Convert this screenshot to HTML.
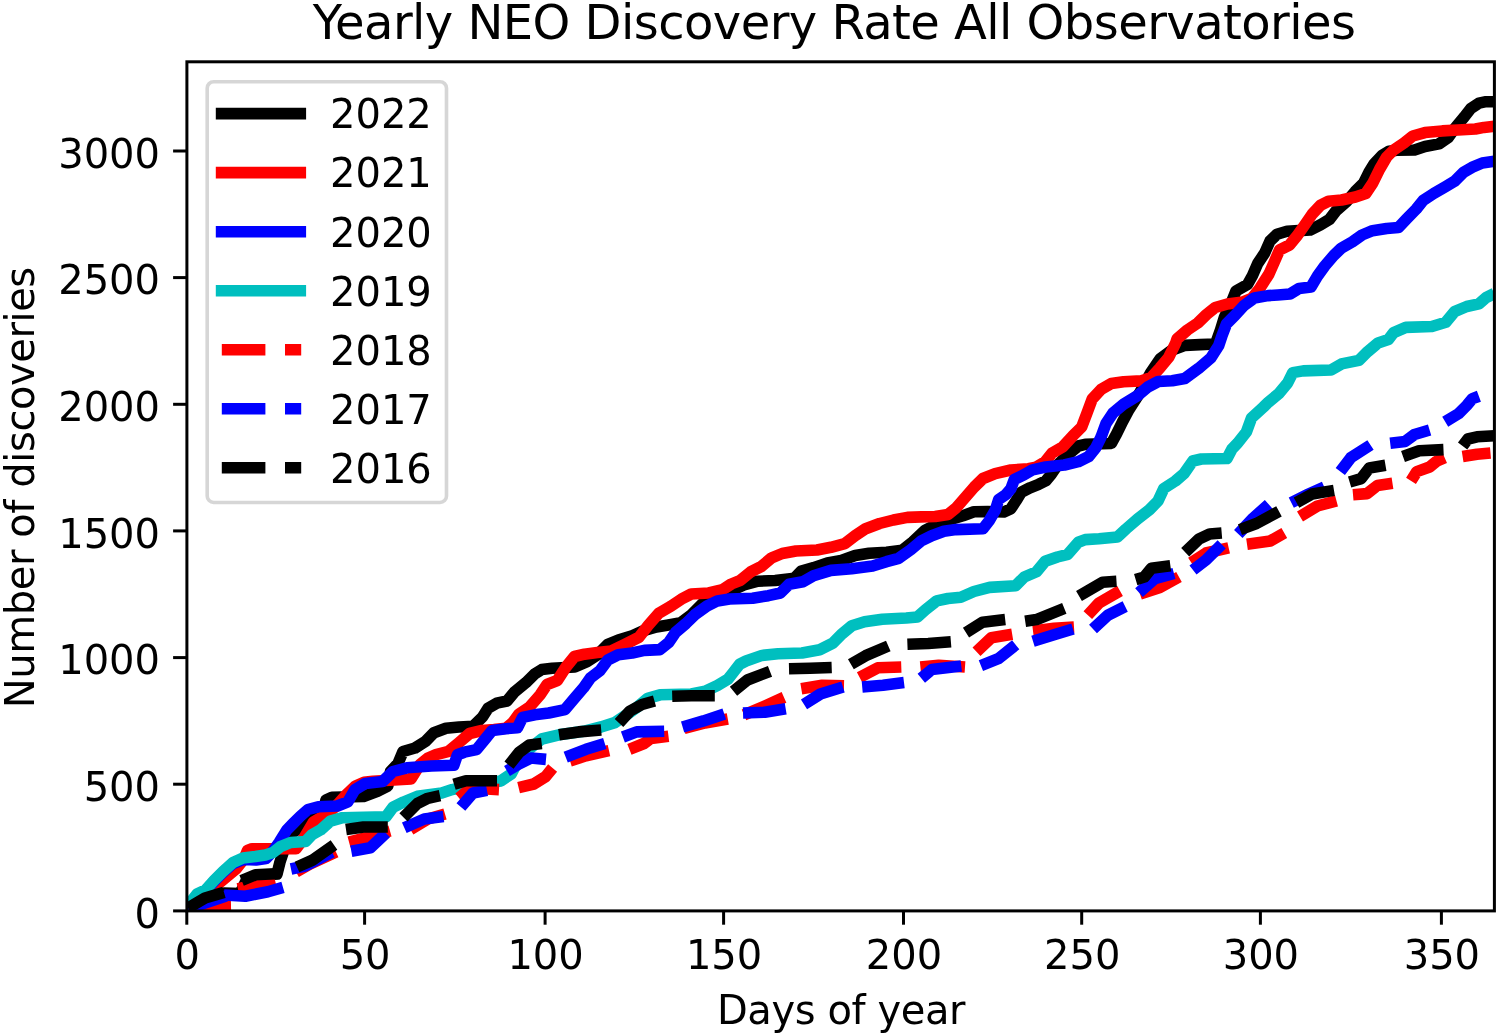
<!DOCTYPE html>
<html lang="en"><head><meta charset="utf-8"><title>Yearly NEO Discovery Rate All Observatories</title>
<style>html,body{margin:0;padding:0;background:#fff}body{width:1498px;height:1035px;overflow:hidden}svg{display:block}text{font-family:"DejaVu Sans","Liberation Sans",sans-serif;fill:#000}</style></head><body>
<svg width="1498" height="1035" viewBox="0 0 1498 1035">
<rect width="1498" height="1035" fill="#fff"/>
<defs><clipPath id="ax"><rect x="186.9" y="61.8" width="1307.5" height="849.1"/></clipPath></defs>
<text x="834.1" y="38.6" font-size="48" letter-spacing="-0.55" text-anchor="middle">Yearly NEO Discovery Rate All Observatories</text>
<g clip-path="url(#ax)" fill="none" stroke-width="11.6" stroke-linejoin="round">
<polyline stroke="#000" points="186.9,910.7 188.0,908.0 205.0,898.0 224.0,893.0 240.0,893.5 246.0,881.0 256.0,875.5 277.0,874.0 280.0,862.0 285.0,847.0 291.5,833.5 298.0,829.0 305.6,826.4 313.2,816.4 323.2,811.4 326.0,800.0 332.0,797.2 363.5,796.5 377.4,791.3 387.8,786.0 390.5,771.5 398.0,763.5 403.0,751.5 415.0,748.0 425.5,741.3 434.0,732.7 446.0,728.2 459.0,727.0 473.0,726.4 482.5,717.0 488.0,708.3 496.7,703.2 507.0,701.0 514.5,692.0 526.0,682.6 534.8,673.9 541.7,669.6 552.2,668.3 574.8,667.0 587.0,661.7 597.4,654.8 607.8,644.3 618.3,640.0 632.2,635.7 644.3,630.4 656.5,627.0 667.0,625.2 680.9,622.6 691.3,614.8 703.5,602.6 717.4,596.5 730.0,591.3 743.9,585.0 757.8,581.2 775.2,580.5 794.3,578.3 801.3,571.0 813.5,567.7 827.4,563.0 841.3,560.5 855.2,555.5 869.0,553.3 886.5,552.2 902.2,550.3 912.6,541.9 924.8,530.4 935.2,525.2 949.0,520.0 963.0,515.7 973.9,511.8 987.8,511.5 1003.9,512.0 1010.9,508.7 1016.0,500.9 1021.3,492.2 1030.0,487.8 1038.7,484.3 1045.7,480.9 1050.9,474.8 1057.4,465.2 1067.8,454.8 1078.3,446.0 1085.2,444.3 1111.3,443.5 1116.5,434.0 1122.5,421.7 1129.0,409.6 1139.0,394.0 1150.5,373.0 1160.0,359.0 1171.5,350.4 1185.0,345.4 1200.0,344.6 1215.5,344.0 1220.5,330.0 1224.5,317.0 1231.0,303.5 1236.0,291.0 1247.5,284.5 1252.5,275.5 1257.7,263.5 1264.7,253.0 1270.0,241.0 1277.0,234.3 1287.0,231.3 1298.7,230.6 1310.2,230.0 1320.6,224.8 1329.3,219.6 1336.0,210.9 1346.0,202.2 1355.0,191.7 1363.6,183.0 1368.8,172.6 1374.0,163.9 1382.0,155.5 1389.0,151.2 1397.0,150.3 1414.5,150.0 1425.0,146.5 1439.0,143.9 1448.0,137.8 1455.5,127.4 1464.2,117.0 1471.0,108.3 1479.0,103.2 1486.0,101.7 1494.3,101.7"/>
<polyline stroke="#f00" points="186.9,910.7 200.0,899.0 221.5,881.0 236.5,868.5 244.0,859.0 247.5,850.5 252.0,848.8 296.0,848.8 304.0,838.0 313.5,822.0 328.7,813.0 338.0,804.0 345.5,795.5 355.5,786.0 364.0,782.3 373.0,781.2 411.0,779.0 420.0,764.5 428.0,758.0 436.0,754.6 448.7,751.3 459.0,742.6 469.6,733.5 482.0,730.5 494.0,729.6 506.0,728.2 512.5,722.8 519.0,714.0 529.5,707.0 540.0,695.0 547.0,684.5 557.3,680.5 566.0,667.0 574.5,656.5 584.5,654.2 597.4,652.6 611.3,651.0 625.2,644.2 639.0,637.3 648.3,625.3 658.8,613.2 670.8,606.3 681.3,599.2 691.3,594.0 708.7,593.0 722.6,589.6 731.3,584.0 740.4,580.3 750.9,571.7 761.3,566.5 771.7,557.8 782.2,553.5 796.0,551.0 817.0,550.0 830.9,547.3 844.8,543.7 855.2,535.7 865.7,528.7 879.6,523.5 893.5,520.0 907.4,517.4 921.3,516.9 935.2,516.5 948.0,514.5 956.0,508.0 963.0,500.0 974.3,487.0 983.0,478.5 995.2,473.6 1010.9,470.0 1028.3,468.8 1036.0,467.3 1045.2,461.7 1052.2,453.0 1062.6,447.0 1073.0,435.7 1081.7,427.0 1087.0,413.0 1092.2,399.0 1100.9,389.6 1111.3,383.5 1123.5,381.7 1140.9,380.9 1151.3,377.4 1160.0,367.8 1168.7,357.4 1175.7,343.0 1177.0,339.0 1187.4,330.0 1197.8,323.0 1206.5,314.5 1215.2,307.5 1227.4,304.0 1243.0,302.0 1251.7,298.5 1260.0,288.0 1269.0,274.0 1274.3,262.0 1279.5,250.0 1289.5,245.0 1296.7,236.3 1304.0,226.0 1312.3,214.0 1320.5,205.2 1328.5,201.3 1341.5,200.0 1355.4,197.0 1365.8,193.5 1372.8,183.0 1379.7,169.0 1386.7,157.0 1393.7,150.0 1404.0,143.0 1412.8,136.0 1425.0,132.6 1442.3,130.9 1458.0,130.0 1475.4,129.0 1484.0,127.4 1494.3,126.3"/>
<polyline stroke="#00f" points="186.9,910.7 197.0,896.0 205.5,891.0 214.0,881.5 223.0,872.5 233.0,863.5 243.0,859.5 256.0,860.0 266.0,858.5 273.0,851.0 279.2,842.3 286.8,830.0 293.0,823.6 300.6,816.0 308.0,809.5 318.2,806.8 337.4,806.0 347.8,801.8 354.8,789.8 365.2,783.5 382.6,781.5 393.0,771.5 407.0,767.8 431.3,766.0 453.9,765.2 457.4,754.8 464.3,752.2 476.5,749.6 485.2,739.0 492.2,730.4 506.0,728.7 517.4,727.8 522.6,717.4 534.8,714.8 548.7,713.0 565.0,709.6 574.5,698.3 583.5,687.8 590.5,677.8 600.0,670.6 607.8,660.0 618.3,654.8 632.2,653.0 644.3,650.4 660.0,649.6 668.7,642.6 675.7,632.2 686.0,623.5 694.8,614.8 707.0,606.0 717.4,600.9 729.6,599.0 752.6,598.3 768.3,595.7 780.4,593.0 789.0,584.3 803.0,581.7 813.5,575.7 830.9,570.4 851.7,568.7 872.6,566.0 886.5,561.7 898.7,558.3 910.9,549.6 921.3,540.9 931.7,535.7 943.9,531.3 956.0,529.6 983.0,528.7 989.0,521.0 995.2,510.4 998.7,499.5 1005.7,494.8 1010.9,488.7 1014.3,479.5 1024.0,474.8 1032.6,469.8 1045.7,467.0 1064.3,465.0 1078.3,461.7 1088.7,456.5 1095.7,447.8 1100.9,437.4 1106.0,423.5 1113.0,413.0 1123.5,404.3 1137.4,395.7 1147.8,387.0 1158.3,381.5 1172.2,380.8 1184.8,378.5 1198.7,368.3 1210.9,357.8 1218.7,345.7 1222.2,335.2 1226.5,323.9 1235.2,315.2 1243.9,305.7 1254.3,298.0 1268.0,295.6 1277.8,295.0 1290.0,294.0 1299.0,288.5 1311.0,287.0 1317.5,276.0 1324.7,266.0 1333.7,255.5 1341.2,248.3 1352.5,241.8 1362.0,235.0 1372.5,230.7 1386.7,228.5 1398.5,227.5 1406.5,219.0 1416.3,209.0 1423.2,200.4 1433.7,193.5 1445.8,186.5 1454.5,181.3 1463.2,172.6 1471.9,167.4 1482.3,163.0 1494.3,161.3"/>
<polyline stroke="#00bfbf" points="186.9,910.7 190.0,903.0 197.0,894.0 205.5,890.0 214.0,880.5 223.0,871.5 233.0,862.5 243.0,858.0 255.4,856.5 265.4,855.0 273.0,852.5 280.5,846.7 290.6,842.5 305.6,841.5 311.9,834.8 320.7,829.8 330.4,821.2 342.6,817.7 363.5,817.2 386.0,816.7 393.0,807.2 403.5,802.0 417.4,796.3 441.7,793.0 452.2,789.6 476.5,784.3 500.9,780.9 511.3,773.9 517.4,762.0 529.6,748.7 541.7,739.0 559.0,734.8 583.5,731.3 600.9,727.0 614.8,722.6 625.2,715.7 637.4,707.0 647.8,698.3 660.0,694.8 691.3,694.0 705.2,691.3 717.4,685.5 727.8,679.3 734.0,671.5 739.6,664.2 746.0,661.0 762.0,655.4 778.0,653.8 802.0,653.0 819.7,649.7 832.6,643.3 842.2,633.7 851.8,625.7 864.6,621.7 882.2,619.3 906.3,618.0 917.5,616.9 925.5,609.7 936.7,600.9 948.0,598.5 960.8,597.2 973.9,591.5 989.6,587.4 1015.7,585.7 1024.3,577.0 1036.5,571.7 1045.2,561.3 1057.4,557.0 1067.8,554.3 1078.3,542.2 1085.2,539.6 1099.0,538.7 1117.4,537.0 1126.0,529.0 1137.7,518.8 1149.3,509.9 1158.0,501.0 1163.8,488.5 1175.4,481.0 1184.0,473.6 1192.8,461.0 1201.4,459.0 1227.0,458.5 1232.0,449.0 1237.7,443.0 1246.4,432.0 1251.5,418.0 1263.5,407.0 1268.4,402.2 1278.9,393.5 1287.6,383.0 1292.8,372.6 1303.2,370.9 1331.0,370.0 1341.5,363.9 1358.9,360.4 1367.6,351.7 1378.0,343.0 1388.4,339.6 1393.7,332.6 1405.8,327.4 1431.9,326.5 1445.8,322.2 1454.5,311.7 1466.7,306.5 1478.9,303.9 1485.8,297.8 1494.3,293.5"/>
<path stroke="#f00" d="M187.0 909.0 L202.0 906.0 L231.0 905.5 M238.0 889.0 L250.0 886.0 L275.0 880.0 M296.0 872.0 L310.0 864.0 L336.0 852.0 M349.0 842.0 L372.0 836.0 L390.0 831.0 M410.4 829.6 L427.8 819.0 L445.0 814.0 M459.0 798.0 L471.0 788.0 L499.0 789.6 M518.6 787.7 L533.8 784.0 L545.4 776.8 L552.6 768.0 M570.0 760.9 L586.0 755.8 L609.0 750.7 M629.4 749.3 L644.0 743.5 L651.0 738.4 L668.5 736.2 M684.0 728.5 L705.0 723.0 L727.8 719.0 M744.0 714.8 L764.8 706.0 L784.0 697.4 M801.3 688.7 L822.2 685.2 L844.0 685.7 M859.6 677.4 L877.8 667.8 L901.3 667.0 M920.4 667.0 L938.7 665.2 L965.0 667.0 M976.5 651.7 L991.3 637.8 L1012.2 634.3 M1033.0 630.9 L1054.0 628.3 L1074.0 627.0 M1087.8 615.2 L1099.0 603.0 L1120.0 590.9 M1140.0 594.0 L1160.0 587.4 L1179.0 577.0 M1191.3 562.6 L1206.0 553.0 L1228.7 547.8 M1247.0 544.3 L1270.4 540.9 L1284.3 533.0 M1300.0 516.5 L1317.4 506.0 L1336.5 500.9 M1353.0 494.8 L1367.0 493.6 L1377.4 485.5 L1392.5 483.2 M1411.0 480.9 L1416.8 471.6 L1429.6 467.0 L1436.6 461.2 L1444.7 457.7 M1462.6 456.5 L1477.0 454.2 L1490.5 453.0"/>
<path stroke="#00f" d="M188.0 909.0 L205.0 903.0 L226.0 896.0 M224.0 895.0 L245.3 896.2 L268.0 891.8 L283.0 887.4 M291.0 869.0 L305.0 866.0 L332.0 852.0 M351.3 851.3 L370.4 847.8 L386.0 833.0 M404.3 827.8 L424.3 819.0 L443.5 816.5 M460.9 807.0 L473.0 793.0 L487.0 790.4 M507.0 771.0 L519.3 763.8 L530.9 758.0 L546.0 759.4 M565.7 757.2 L586.0 749.3 L604.8 743.5 M622.9 737.0 L636.7 731.9 L664.2 731.2 M682.6 727.0 L703.5 720.9 L724.3 713.9 M743.0 713.0 L764.8 712.2 L785.7 708.7 M804.0 704.3 L820.4 694.0 L843.0 687.0 M862.2 687.0 L883.0 685.2 L904.0 682.6 M921.3 678.3 L931.7 669.6 L961.3 666.0 M980.9 665.7 L998.3 658.7 L1015.7 644.8 M1033.0 641.3 L1055.7 634.3 L1073.0 629.0 M1093.0 629.0 L1107.8 615.2 L1125.2 606.5 M1139.0 592.6 L1154.8 578.7 L1174.0 573.5 M1193.0 570.0 L1206.0 560.0 L1221.7 544.3 M1238.3 534.0 L1253.0 518.3 L1268.7 504.3 M1291.3 502.6 L1308.7 494.0 L1324.3 487.0 M1340.3 471.6 L1350.8 457.7 L1370.5 445.0 M1390.2 443.2 L1405.2 441.4 L1414.5 434.5 L1429.6 430.0 M1445.2 421.7 L1458.6 413.6 L1466.7 405.5 L1472.5 398.6 L1478.9 396.2"/>
<path stroke="#000" d="M188.0 908.0 L205.0 898.0 L224.0 892.4 M241.6 880.5 L255.4 874.8 L279.9 873.5 M297.0 867.0 L312.0 860.4 L334.0 845.0 M346.0 829.6 L363.5 827.0 L387.8 827.0 M403.5 817.4 L417.4 803.5 L427.8 798.3 L440.0 795.7 M454.0 784.3 L466.0 780.7 L497.0 780.7 M509.0 765.2 L519.3 752.2 L529.4 744.9 L541.7 743.5 M559.0 734.8 L578.7 731.9 L601.2 730.0 M619.0 723.0 L630.0 711.0 L642.0 704.5 L654.5 701.0 M672.2 696.2 L691.3 695.7 L714.8 695.7 M733.5 691.3 L747.4 680.0 L770.0 671.3 M789.0 668.7 L810.0 668.2 L831.7 667.5 M850.9 664.3 L865.7 655.7 L888.3 646.0 M907.4 644.3 L928.3 643.5 L950.9 641.7 M966.0 632.6 L982.6 622.2 L1005.2 619.6 M1025.2 621.3 L1036.5 619.6 L1064.3 608.3 M1079.0 596.0 L1102.6 582.2 L1116.5 581.3 M1135.7 579.6 L1144.3 577.0 L1151.3 568.3 L1170.4 565.7 M1185.2 552.2 L1199.0 539.0 L1209.6 534.0 L1221.7 533.0 M1240.0 529.6 L1256.5 523.5 L1279.0 511.3 M1296.5 502.6 L1312.2 494.0 L1334.0 490.4 M1349.6 482.0 L1361.2 478.6 L1369.3 468.0 L1385.5 465.2 M1403.0 456.5 L1419.2 450.7 L1443.5 449.6 M1462.6 446.0 L1467.9 439.0 L1477.0 436.8 L1494.3 435.7"/>
</g>
<g stroke="#000" stroke-width="3.0" fill="none">
<line x1="186.8" y1="910.9" x2="186.8" y2="924.7"/>
<line x1="364.6" y1="910.9" x2="364.6" y2="924.7"/>
<line x1="545.1" y1="910.9" x2="545.1" y2="924.7"/>
<line x1="723.6" y1="910.9" x2="723.6" y2="924.7"/>
<line x1="903.5" y1="910.9" x2="903.5" y2="924.7"/>
<line x1="1081.7" y1="910.9" x2="1081.7" y2="924.7"/>
<line x1="1260.4" y1="910.9" x2="1260.4" y2="924.7"/>
<line x1="1441.4" y1="910.9" x2="1441.4" y2="924.7"/>
<line x1="186.9" y1="910.9" x2="173.1" y2="910.9"/>
<line x1="186.9" y1="784.2" x2="173.1" y2="784.2"/>
<line x1="186.9" y1="657.6" x2="173.1" y2="657.6"/>
<line x1="186.9" y1="530.9" x2="173.1" y2="530.9"/>
<line x1="186.9" y1="404.3" x2="173.1" y2="404.3"/>
<line x1="186.9" y1="277.6" x2="173.1" y2="277.6"/>
<line x1="186.9" y1="151.0" x2="173.1" y2="151.0"/>
<rect x="186.9" y="61.8" width="1307.5" height="849.1" stroke-linejoin="miter"/>
</g>
<g font-size="40">
<text x="187.3" y="969" text-anchor="middle">0</text>
<text x="365.1" y="969" text-anchor="middle">50</text>
<text x="545.6" y="969" text-anchor="middle">100</text>
<text x="724.1" y="969" text-anchor="middle">150</text>
<text x="904.0" y="969" text-anchor="middle">200</text>
<text x="1082.2" y="969" text-anchor="middle">250</text>
<text x="1260.9" y="969" text-anchor="middle">300</text>
<text x="1441.9" y="969" text-anchor="middle">350</text>
<text x="160" y="927.6" text-anchor="end">0</text>
<text x="160" y="801.0" text-anchor="end">500</text>
<text x="160" y="674.3" text-anchor="end">1000</text>
<text x="160" y="547.6" text-anchor="end">1500</text>
<text x="160" y="421.0" text-anchor="end">2000</text>
<text x="160" y="294.3" text-anchor="end">2500</text>
<text x="160" y="167.7" text-anchor="end">3000</text>
<text x="841" y="1024.3" letter-spacing="-0.4" text-anchor="middle">Days of year</text>
<text transform="translate(34,487.7) rotate(-90)" letter-spacing="-0.42" text-anchor="middle">Number of discoveries</text>
</g>
<rect x="207.2" y="81.7" width="239.3" height="420.8" rx="6.5" ry="6.5" fill="#fff" fill-opacity="0.8" stroke="#ccc" stroke-opacity="0.8" stroke-width="3.6"/>
<g font-size="40">
<line x1="215.8" y1="113.6" x2="306.1" y2="113.6" stroke="#000" stroke-width="11.6"/>
<text x="330" y="128.4">2022</text>
<line x1="215.8" y1="172.6" x2="306.1" y2="172.6" stroke="#f00" stroke-width="11.6"/>
<text x="330" y="187.4">2021</text>
<line x1="215.8" y1="231.7" x2="306.1" y2="231.7" stroke="#00f" stroke-width="11.6"/>
<text x="330" y="246.5">2020</text>
<line x1="215.8" y1="290.7" x2="306.1" y2="290.7" stroke="#00bfbf" stroke-width="11.6"/>
<text x="330" y="305.5">2019</text>
<line x1="221.8" y1="349.7" x2="301.2" y2="349.7" stroke="#f00" stroke-width="11.6" stroke-dasharray="43.6 19.6"/>
<text x="330" y="364.5">2018</text>
<line x1="221.8" y1="408.8" x2="301.2" y2="408.8" stroke="#00f" stroke-width="11.6" stroke-dasharray="43.6 19.6"/>
<text x="330" y="423.6">2017</text>
<line x1="221.8" y1="467.8" x2="301.2" y2="467.8" stroke="#000" stroke-width="11.6" stroke-dasharray="43.6 19.6"/>
<text x="330" y="482.6">2016</text>
</g>
</svg></body></html>
